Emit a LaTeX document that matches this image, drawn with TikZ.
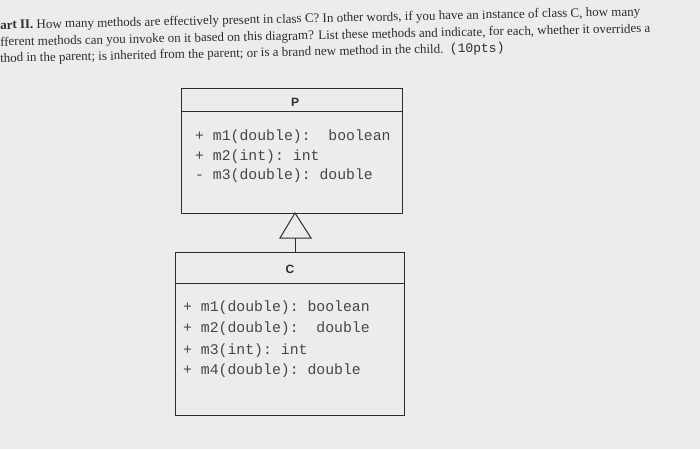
\documentclass[tikz,border=0pt]{standalone}
\usepackage{fontspec}
\setmainfont{Liberation Serif}
\setmonofont{Liberation Mono}
\setsansfont{Liberation Sans}
\definecolor{paper}{RGB}{236,236,234}
\definecolor{ink}{RGB}{45,45,48}
\definecolor{inkl}{RGB}{70,70,72}
\begin{document}
\begin{tikzpicture}[x=1pt,y=-1pt,
  qline/.style={anchor=west,inner sep=0pt,text=ink,font=\fontsize{13}{14}\selectfont,rotate=1.2},
  umlbox/.style={draw=ink,line width=1pt},
  memb/.style={anchor=west,inner sep=0pt,text=inkl,font=\ttfamily\fontsize{14.8}{16}\selectfont},
  cname/.style={inner sep=0pt,text=ink,font=\sffamily\bfseries\fontsize{12}{14}\selectfont}]
\fill[paper] (0,0) rectangle (700,449);
\useasboundingbox (0,0) rectangle (700,449);
% question text
\node[qline] (q1) at (0,26) {\textbf{art II.} How many methods are effectively present in class C? In other words, if you have an instance of class C, how many};
\node[qline] (q2) at (0,43) {fferent methods can you invoke on it based on this diagram? List these methods and indicate, for each, whether it overrides a};
\node[qline] (q3) at (0,59) {thod in the parent; is inherited from the parent; or is a brand new method in the child.\ \ {\ttfamily(10pts)}};
% class P
\node[umlbox,minimum width=221pt,minimum height=125pt,anchor=north west] (P) at (181,88) {};
\coordinate (ph1) at (181,112);
\coordinate (ph2) at (402,112);
\draw[ink,line width=1pt] (ph1) -- (ph2);
\node[cname] (pn) at (295,102) {P};
\node[memb] (p1) at (195,137) {+ m1(double):\ \ boolean};
\node[memb] (p2) at (195,157) {+ m2(int): int};
\node[memb] (p3) at (195,176) {- m3(double): double};
% inheritance
\coordinate (tA) at (295,213);
\coordinate (tL) at (280,238);
\coordinate (tR) at (311,238);
\draw[ink,line width=1pt,line join=miter] (tA) -- (tL) -- (tR) -- cycle;
% class C
\node[umlbox,minimum width=229pt,minimum height=163pt,anchor=north west] (C) at (175,252) {};
\coordinate (tB) at (295,238);
\coordinate (tC) at (295,252);
\draw[ink,line width=1pt] (tB) -- (tC);
\coordinate (ch1) at (175,283);
\coordinate (ch2) at (404,283);
\draw[ink,line width=1pt] (ch1) -- (ch2);
\node[cname] (cn) at (290,269) {C};
\node[memb] (c1) at (183,308) {+ m1(double): boolean};
\node[memb] (c2) at (183,329) {+ m2(double):\ \ double};
\node[memb] (c3) at (183,351) {+ m3(int): int};
\node[memb] (c4) at (183,371) {+ m4(double): double};
\end{tikzpicture}
\end{document}
